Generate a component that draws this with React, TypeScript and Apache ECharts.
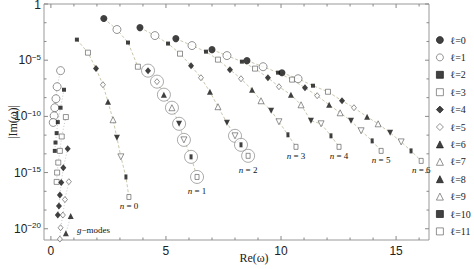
import React, { useEffect, useRef } from "react";
import * as echarts from "echarts";

type P = [number, number] | null;

// ℓ legend labels
const ellNames = ["ℓ=0", "ℓ=1", "ℓ=2", "ℓ=3", "ℓ=4", "ℓ=5", "ℓ=6", "ℓ=7", "ℓ=8", "ℓ=9", "ℓ=10", "ℓ=11"];

// p-modes: [Re(ω), log10|Im(ω)|] for ℓ = 0..11, one list per overtone n
const pModeN0: P[] = [null, null, [1.13, -3.17], [1.61, -4.33], [1.96, -5.75], [2.26, -7.18], [2.48, -8.7], [2.7, -10.3], [2.87, -11.91], [3.04, -13.6], [3.26, -15.39], [3.39, -17.17]];
const pModeN1: P[] = [[2.3, -1.29], [2.87, -2.27], [3.35, -3.43], [3.78, -5.58], [4.22, -5.93], [4.61, -6.91], [4.91, -8.07], [5.26, -9.23], [5.57, -10.66], [5.78, -12.09], [6.09, -13.6], [6.35, -15.39]];
const pModeN2: P[] = [[3.87, -2.1], [4.52, -2.81], [5.09, -3.52], [5.61, -4.42], [6.09, -5.49], [6.52, -6.56], [6.91, -7.81], [7.26, -9.14], [7.65, -10.57], [8.0, -11.73], [8.26, -12.53], [8.57, -13.51]];
const pModeN3: P[] = [[5.43, -3.08], [6.13, -3.7], [6.74, -4.24], [7.26, -4.95], [7.78, -5.84], [8.26, -6.65], [8.74, -7.63], [9.13, -8.61], [9.57, -9.5], [9.91, -10.48], [10.3, -11.64], [10.65, -12.71]];
const pModeN4: P[] = [[7.0, -4.06], [7.65, -4.59], [8.3, -5.13], [8.87, -5.75], [9.43, -6.56], [9.91, -7.36], [10.43, -8.07], [10.87, -8.97], [11.3, -10.39], [11.74, -10.66], [12.17, -11.73], [12.52, -12.71]];
const pModeN5: P[] = [[8.52, -5.04], [9.22, -5.58], [9.87, -6.11], [10.48, -6.73], [11.04, -7.45], [11.57, -8.16], [12.09, -8.97], [12.57, -9.68], [13.04, -10.39], [13.48, -11.28], [13.96, -12.18], [14.35, -13.07]];
const pModeN6: P[] = [[10.04, -6.11], [10.74, -6.65], [11.39, -7.27], [12.04, -7.81], [12.65, -8.61], [13.17, -9.23], [13.74, -10.04], [14.22, -10.66], [14.74, -11.46], [15.22, -12.27], [15.65, -13.07], [16.09, -13.96]];
const pModes = [pModeN0, pModeN1, pModeN2, pModeN3, pModeN4, pModeN5, pModeN6];
const overtoneLabels = ["0", "1", "2", "3", "4", "5", "6"];

// circled points: [n, ℓ]
const circledModes: [number, number][] = [[1, 4], [1, 5], [1, 6], [1, 7], [1, 8], [1, 9], [1, 10], [1, 11], [2, 9], [2, 10], [2, 11]];

// g-modes: [Re(ω), log10|Im(ω)|] per ℓ
const gModesL1: [number, number][] = [[0.42, -5.93], [0.27, -7.36], [0.22, -8.43], [0.17, -9.23], [0.14, -9.95], [0.1, -10.54]];
const gModesL2: [number, number][] = [[0.57, -7.63], [0.42, -9.23], [0.3, -10.51], [0.25, -11.49], [0.2, -12.33], [0.17, -13.07]];
const gModesL3: [number, number][] = [[0.65, -10.06], [0.47, -11.79], [0.39, -13.07], [0.32, -14.11], [0.27, -15.0], [0.25, -15.83]];
const gModesL4: [number, number][] = [[0.73, -12.89], [0.54, -14.56], [0.45, -15.88], [0.39, -16.99], [0.35, -17.97], [0.3, -18.78]];
const gModesL5: [number, number][] = [[0.78, -15.81], [0.61, -17.4], [0.52, -18.78], [0.42, -19.91], [0.39, -20.92]];
const gModesL6: [number, number][] = [[0.86, -18.87], [0.65, -20.41]];
const gModes: [number, number][][] = [[], gModesL1, gModesL2, gModesL3, gModesL4, gModesL5, gModesL6, [], [], [], [], []];

// axis ticks
const xTickValues = [0, 1, 2, 3, 4, 5, 6, 7, 8, 9, 10, 11, 12, 13, 14, 15, 16];
const yTickExps = [0, -5 / 3, -10 / 3, -5, -20 / 3, -25 / 3, -10, -35 / 3, -40 / 3, -15, -50 / 3, -55 / 3, -20];

const FILL = "#111";
const OPEN = "#555";
const markers = [
  { symbol: "circle", size: 7, open: false, rotate: 0 },
  { symbol: "circle", size: 8, open: true, rotate: 0 },
  { symbol: "rect", size: 4, open: false, rotate: 0 },
  { symbol: "rect", size: 5, open: true, rotate: 0 },
  { symbol: "diamond", size: [6, 7], open: false, rotate: 0 },
  { symbol: "diamond", size: [5, 6], open: true, rotate: 0 },
  { symbol: "triangle", size: 6, open: false, rotate: 0 },
  { symbol: "triangle", size: 6, open: true, rotate: 0 },
  { symbol: "triangle", size: 6, open: false, rotate: 180 },
  { symbol: "triangle", size: 6, open: true, rotate: 180 },
  { symbol: "rect", size: [3, 5], open: false, rotate: 0 },
  { symbol: "rect", size: [4, 5], open: true, rotate: 0 },
];

const GRID = { left: 44, right: 45, top: 4, bottom: 29 };
const W = 474;
const H = 269;

export default function App() {
  const ref = useRef<HTMLDivElement>(null);
  useEffect(() => {
    if (!ref.current) return;
    const chart = echarts.init(ref.current, null, { renderer: "svg" });
    const serif = "Liberation Serif";
    const sans = "Liberation Sans";

    const series: any[] = [];
    // dashed overtone lines
    pModes.forEach((arr, n) => {
      series.push({
        type: "line",
        name: "n" + n,
        data: arr.filter((p) => p !== null),
        symbol: "none",
        silent: true,
        z: 1,
        lineStyle: { color: "#cbc7ad", width: 1, type: [3, 2] },
      });
    });
    // dotted g-mode lines
    gModes.forEach((arr, l) => {
      if (!arr.length) return;
      series.push({
        type: "line",
        name: "g" + l,
        data: arr,
        symbol: "none",
        silent: true,
        z: 1,
        lineStyle: { color: "#c8c8c8", width: 1, type: [1, 2] },
      });
    });
    // circled points
    series.push({
      type: "scatter",
      name: "circled",
      data: circledModes.map(([n, l]) => pModes[n][l]),
      symbol: "circle",
      symbolSize: 13,
      z: 2,
      itemStyle: { color: "#fff", borderColor: "#777", borderWidth: 0.8 },
    });
    // markers per ℓ
    ellNames.forEach((name, l) => {
      const m = markers[l];
      const data = [
        ...pModes.map((arr) => arr[l]).filter((p) => p !== null),
        ...gModes[l],
      ];
      series.push({
        type: "scatter",
        name,
        data,
        symbol: m.symbol,
        symbolSize: m.size,
        symbolRotate: m.rotate,
        z: 3,
        itemStyle: m.open
          ? { color: "#fff", borderColor: OPEN, borderWidth: 0.8 }
          : { color: FILL, borderColor: FILL, borderWidth: 0 },
      });
    });

    const option: any = {
      animation: false,
      grid: { ...GRID, outerBoundsMode: "none", containLabel: false, show: true, borderColor: "#999", borderWidth: 1, backgroundColor: "transparent" },
      xAxis: {
        type: "value",
        min: -0.3,
        max: 16.43,
        splitNumber: 3,
        axisLine: { show: false },
        axisTick: { show: false },
        splitLine: { show: false },
        axisLabel: {
          margin: 5,
          fontFamily: sans,
          fontSize: 12,
          color: "#222",
          formatter: (v: number) => (Math.abs(v - Math.round(v)) < 1e-9 && Math.round(v) % 5 === 0 ? String(Math.round(v)) : ""),
        },
      },
      yAxis: {
        type: "value",
        min: -21,
        max: 0,
        splitNumber: 5,
        name: "|Im(ω)|",
        nameLocation: "middle",
        nameGap: 25,
        nameMoveOverlap: false,
        nameRotate: 90,
        nameTextStyle: { fontFamily: serif, fontSize: 12, color: "#222" },
        axisLine: { show: false },
        axisTick: { show: false },
        splitLine: { show: false },
        axisLabel: {
          margin: 3,
          color: "#222",
          formatter: (v: number) => {
            const r = Math.round(v);
            if (Math.abs(v - r) > 1e-9 || r % 5 !== 0) return "";
            if (r === 0) return "{one|1}";
            return "{b|10}{sup|−" + -r + "}";
          },
          rich: {
            one: { fontFamily: sans, fontSize: 12, color: "#222", lineHeight: 9, padding: [1, 0, 0, 0] },
            b: { fontFamily: sans, fontSize: 12, color: "#222", lineHeight: 14 },
            sup: { fontFamily: sans, fontSize: 8, color: "#222", lineHeight: 9, verticalAlign: "top" },
          },
        },
      },
      legend: {
        data: ellNames,
        orient: "vertical",
        left: 436,
        top: 35,
        padding: 0,
        itemWidth: 7,
        itemHeight: 7,
        itemGap: 7.4,
        itemStyle: { borderWidth: 0.8 },
        textStyle: { fontFamily: serif, fontSize: 10, color: "#222", lineHeight: 10, padding: [0, 0, 0, 2] },
      },
      series,
    };
    chart.setOption(option);

    const graphic: any[] = [];
    const gx0 = GRID.left, gx1 = W - GRID.right, gy0 = GRID.top, gy1 = H - GRID.bottom;
    const tickStyle = { stroke: "#888", lineWidth: 1 };
    xTickValues.forEach((v) => {
      const px = chart.convertToPixel({ xAxisIndex: 0 } as any, v) as number;
      const len = v % 5 === 0 ? 4 : 2.5;
      graphic.push({ type: "line", silent: true, shape: { x1: px, y1: gy1, x2: px, y2: gy1 - len }, style: tickStyle });
      graphic.push({ type: "line", silent: true, shape: { x1: px, y1: gy0, x2: px, y2: gy0 + len }, style: tickStyle });
    });
    yTickExps.forEach((v) => {
      const py = chart.convertToPixel({ yAxisIndex: 0 } as any, v) as number;
      const major = Math.abs(v - Math.round(v)) < 1e-9 && Math.round(v) % 5 === 0;
      const len = major ? 4 : 2.5;
      graphic.push({ type: "line", silent: true, shape: { x1: gx0, y1: py, x2: gx0 + len, y2: py }, style: tickStyle });
      graphic.push({ type: "line", silent: true, shape: { x1: gx1, y1: py, x2: gx1 - len, y2: py }, style: tickStyle });
    });
    // overtone labels under the last point of each overtone line
    pModes.forEach((arr, n) => {
      const last = arr.length - 1;
      const pt = arr[last] as [number, number];
      const [px, py] = chart.convertToPixel({ gridIndex: 0 } as any, pt) as number[];
      const isCircled = circledModes.some(([cn, cl]) => cn === n && cl === last);
      graphic.push({
        type: "text",
        silent: true,
        x: px,
        y: py + (isCircled ? 10 : 5),
        z: 10,
        style: {
          text: "{i|n} = " + overtoneLabels[n],
          align: "center",
          verticalAlign: "top",
          font: `9px "${serif}"`,
          fill: "#111",
          rich: { i: { fontStyle: "italic", fontFamily: serif, fontSize: 9, fill: "#111" } },
        },
      });
    });
    graphic.push({
      type: "text",
      x: 254,
      y: 258,
      silent: true,
      style: { text: "Re(ω)", font: `12px "${serif}"`, fill: "#222", align: "center", verticalAlign: "middle" },
    });
    graphic.push({
      type: "text",
      x: 77,
      y: 230,
      silent: true,
      z: 10,
      style: {
        text: "{i|g}−modes",
        font: `9px "${serif}"`,
        fill: "#111",
        align: "left",
        verticalAlign: "middle",
        rich: { i: { fontStyle: "italic", fontFamily: serif, fontSize: 9, fill: "#111" } },
      },
    });
    chart.setOption({ graphic });

    return () => chart.dispose();
  }, []);
  return <div ref={ref} style={{ position: "fixed", left: 0, top: 0, width: W, height: H, background: "#fff" }} />;
}
